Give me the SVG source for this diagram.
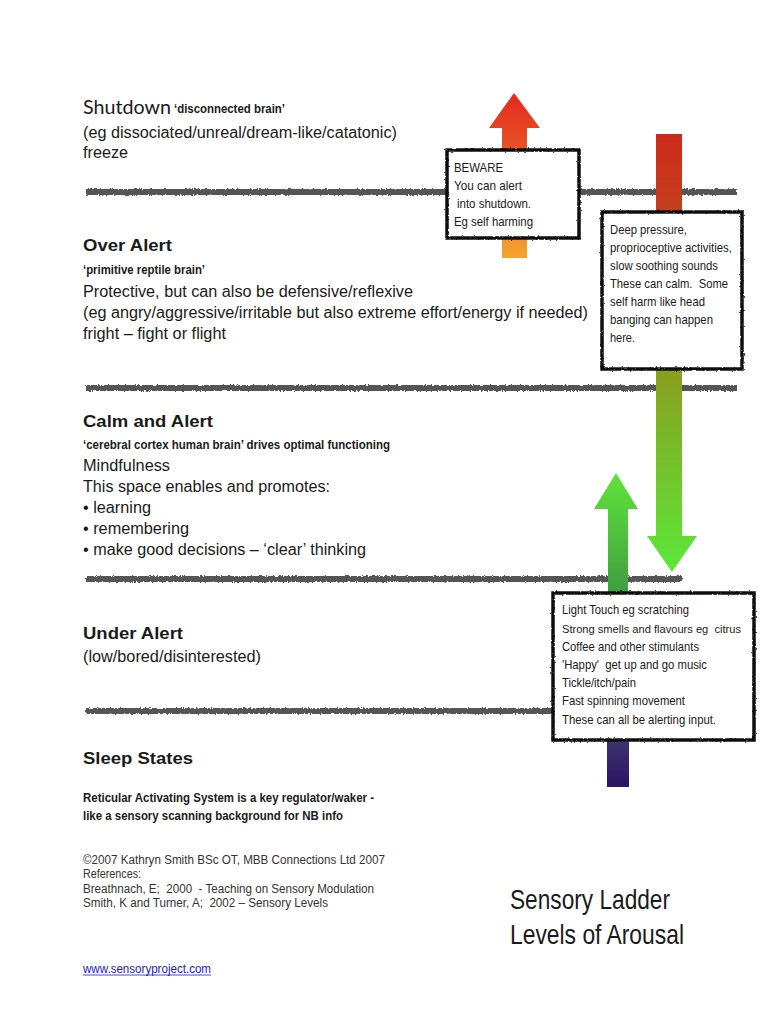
<svg xmlns="http://www.w3.org/2000/svg" width="768" height="1024" viewBox="0 0 768 1024">
<defs>
<style>
text{font-family:"Liberation Sans",Arial,sans-serif;fill:#1a1a1a}
.body{font-size:16px}
.head{font-size:17px;font-weight:bold}
.sub{font-size:12px;font-weight:bold}
.small{font-size:12px;fill:#333}
.box{font-size:13px}
.title{font-size:28px}
.rule{fill:#555;filter:url(#rough)}
.frame{fill:#fff;stroke:#111;stroke-width:3.5;filter:url(#rough2)}
</style>
<filter id="rough" filterUnits="userSpaceOnUse" x="0" y="0" width="768" height="1024">
<feTurbulence type="fractalNoise" baseFrequency="0.6" numOctaves="2" seed="3" result="n"/>
<feDisplacementMap in="SourceGraphic" in2="n" scale="3.5" xChannelSelector="R" yChannelSelector="G"/>
</filter>
<filter id="rough2" x="-5%" y="-5%" width="110%" height="110%">
<feTurbulence type="fractalNoise" baseFrequency="0.5" numOctaves="2" seed="7" result="n"/>
<feDisplacementMap in="SourceGraphic" in2="n" scale="2.5" xChannelSelector="R" yChannelSelector="G"/>
</filter>
<linearGradient id="gUp1" x1="0" y1="93" x2="0" y2="258" gradientUnits="userSpaceOnUse">
<stop offset="0" stop-color="#e22a20"/>
<stop offset="1" stop-color="#f5a32e"/>
</linearGradient>
<linearGradient id="gDown" x1="0" y1="134" x2="0" y2="572" gradientUnits="userSpaceOnUse">
<stop offset="0" stop-color="#cc2a1a"/>
<stop offset="0.25" stop-color="#c04a20"/>
<stop offset="0.55" stop-color="#88a020"/>
<stop offset="1" stop-color="#5ce83a"/>
</linearGradient>
<linearGradient id="gUp2" x1="0" y1="473" x2="0" y2="600" gradientUnits="userSpaceOnUse">
<stop offset="0" stop-color="#60e43c"/>
<stop offset="1" stop-color="#3e9a3e"/>
</linearGradient>
<linearGradient id="gPurple" x1="0" y1="740" x2="0" y2="787" gradientUnits="userSpaceOnUse">
<stop offset="0" stop-color="#3d3370"/>
<stop offset="1" stop-color="#2c1464"/>
</linearGradient>
</defs>
<rect width="768" height="1024" fill="#fff"/>

<g id="level-dividers">
<rect class="rule" x="86" y="189" width="651" height="6"/>
<rect class="rule" x="86" y="385" width="651" height="6"/>
<rect class="rule" x="86" y="576" width="596" height="6"/>
<rect class="rule" x="86" y="708" width="470" height="6"/>
</g>

<g id="connectors">
<polygon points="514,93 540,128 527,128 527,258 502,258 502,128 489,128" fill="url(#gUp1)"/>
<polygon points="656,134 682,134 682,536 697,536 672,572 647,536 656,536" fill="url(#gDown)"/>
<polygon points="616,473 638,509 628,509 628,600 608,600 608,509 594,509" fill="url(#gUp2)"/>
<rect x="607" y="738" width="22" height="49" fill="url(#gPurple)"/>
</g>

<g id="shutdown">
<text x="83" y="114" style="font-family:Lato,'Open Sans',sans-serif;font-size:20px" textLength="88" lengthAdjust="spacingAndGlyphs">Shutdown</text>
<text x="174" y="113" class="sub" textLength="111" lengthAdjust="spacingAndGlyphs">‘disconnected brain’</text>
<text x="83" y="138" class="body" textLength="314" lengthAdjust="spacingAndGlyphs">(eg dissociated/unreal/dream-like/catatonic)</text>
<text x="83" y="158" class="body" textLength="45" lengthAdjust="spacingAndGlyphs">freeze</text>
</g>

<g id="over-alert">
<text x="83" y="251" class="head" textLength="89" lengthAdjust="spacingAndGlyphs">Over Alert</text>
<text x="83" y="274" class="sub" textLength="122" lengthAdjust="spacingAndGlyphs">‘primitive reptile brain’</text>
<text x="83" y="297" class="body" textLength="330" lengthAdjust="spacingAndGlyphs">Protective, but can also be defensive/reflexive</text>
<text x="83" y="318" class="body" textLength="505" lengthAdjust="spacingAndGlyphs">(eg angry/aggressive/irritable but also extreme effort/energy if needed)</text>
<text x="83" y="339" class="body" textLength="143" lengthAdjust="spacingAndGlyphs">fright – fight or flight</text>
</g>

<g id="calm-and-alert">
<text x="83" y="427" class="head" textLength="130" lengthAdjust="spacingAndGlyphs">Calm and Alert</text>
<text x="83" y="449" class="sub" textLength="307" lengthAdjust="spacingAndGlyphs">‘cerebral cortex human brain’ drives optimal functioning</text>
<text x="83" y="471" class="body" textLength="87" lengthAdjust="spacingAndGlyphs">Mindfulness</text>
<text x="83" y="492" class="body" textLength="247" lengthAdjust="spacingAndGlyphs">This space enables and promotes:</text>
<text x="83" y="513" class="body" textLength="68" lengthAdjust="spacingAndGlyphs">• learning</text>
<text x="83" y="534" class="body" textLength="106" lengthAdjust="spacingAndGlyphs">• remembering</text>
<text x="83" y="555" class="body" textLength="283" lengthAdjust="spacingAndGlyphs">• make good decisions – ‘clear’ thinking</text>
</g>

<g id="under-alert">
<text x="83" y="639" class="head" textLength="100" lengthAdjust="spacingAndGlyphs">Under Alert</text>
<text x="83" y="662" class="body" textLength="178" lengthAdjust="spacingAndGlyphs">(low/bored/disinterested)</text>
</g>

<g id="sleep-states">
<text x="83" y="764" class="head" textLength="110" lengthAdjust="spacingAndGlyphs">Sleep States</text>
<text x="83" y="802" class="sub" textLength="291" lengthAdjust="spacingAndGlyphs">Reticular Activating System is a key regulator/waker -</text>
<text x="83" y="820" class="sub" textLength="260" lengthAdjust="spacingAndGlyphs">like a sensory scanning background for NB info</text>
</g>

<g id="beware-box">
<rect class="frame" x="447" y="150" width="132" height="88"/>
<text x="454" y="172" class="box" textLength="49" lengthAdjust="spacingAndGlyphs">BEWARE</text>
<text x="454" y="190" class="box" textLength="68" lengthAdjust="spacingAndGlyphs">You can alert</text>
<text x="457" y="208" class="box" textLength="74" lengthAdjust="spacingAndGlyphs">into shutdown.</text>
<text x="454" y="226" class="box" textLength="79" lengthAdjust="spacingAndGlyphs">Eg self harming</text>
</g>

<g id="calming-box">
<rect class="frame" x="602" y="212" width="140" height="157"/>
<text x="610" y="234" class="box" textLength="77" lengthAdjust="spacingAndGlyphs">Deep pressure,</text>
<text x="610" y="252" class="box" textLength="122" lengthAdjust="spacingAndGlyphs">proprioceptive activities,</text>
<text x="610" y="270" class="box" textLength="108" lengthAdjust="spacingAndGlyphs">slow soothing sounds</text>
<text x="610" y="288" class="box" textLength="118" lengthAdjust="spacingAndGlyphs" xml:space="preserve">These can calm.  Some</text>
<text x="610" y="306" class="box" textLength="95" lengthAdjust="spacingAndGlyphs">self harm like head</text>
<text x="610" y="324" class="box" textLength="103" lengthAdjust="spacingAndGlyphs">banging can happen</text>
<text x="610" y="342" class="box" textLength="25" lengthAdjust="spacingAndGlyphs">here.</text>
</g>

<g id="alerting-box">
<rect class="frame" x="553" y="593" width="201" height="147"/>
<text x="562" y="614" class="box" textLength="127" lengthAdjust="spacingAndGlyphs">Light Touch eg scratching</text>
<text x="562" y="633" class="box" style="font-size:11.5px" textLength="179" lengthAdjust="spacingAndGlyphs" xml:space="preserve">Strong smells and flavours eg  citrus</text>
<text x="562" y="651" class="box" textLength="137" lengthAdjust="spacingAndGlyphs">Coffee and other stimulants</text>
<text x="562" y="669" class="box" textLength="145" lengthAdjust="spacingAndGlyphs" xml:space="preserve">'Happy'  get up and go music</text>
<text x="562" y="687" class="box" textLength="74" lengthAdjust="spacingAndGlyphs">Tickle/itch/pain</text>
<text x="562" y="705" class="box" textLength="123" lengthAdjust="spacingAndGlyphs">Fast spinning movement</text>
<text x="562" y="724" class="box" textLength="154" lengthAdjust="spacingAndGlyphs">These can all be alerting input.</text>
</g>

<g id="credits">
<text x="83" y="864" class="small" textLength="302" lengthAdjust="spacingAndGlyphs">©2007 Kathryn Smith BSc OT, MBB Connections Ltd 2007</text>
<text x="83" y="878" class="small" textLength="58" lengthAdjust="spacingAndGlyphs">References:</text>
<text x="83" y="893" class="small" textLength="291" lengthAdjust="spacingAndGlyphs" xml:space="preserve">Breathnach, E;  2000  - Teaching on Sensory Modulation</text>
<text x="83" y="907" class="small" textLength="245" lengthAdjust="spacingAndGlyphs" xml:space="preserve">Smith, K and Turner, A;  2002 – Sensory Levels</text>
</g>

<g id="title">
<text x="510" y="909" class="title" textLength="160" lengthAdjust="spacingAndGlyphs">Sensory Ladder</text>
<text x="510" y="944" class="title" textLength="174" lengthAdjust="spacingAndGlyphs">Levels of Arousal</text>
</g>

<g id="link">
<text x="83" y="973" style="font-size:12px;fill:#1a1acc" textLength="128" lengthAdjust="spacingAndGlyphs">www.sensoryproject.com</text>
<line x1="83" y1="975" x2="211" y2="975" stroke="#1a1acc" stroke-width="0.8"/>
</g>
</svg>
